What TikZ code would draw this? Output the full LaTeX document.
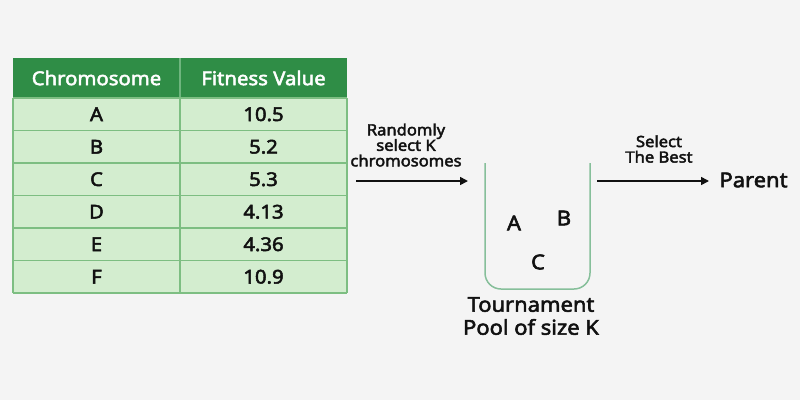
\documentclass[tikz,border=0pt]{standalone}
\usepackage{fontspec}
\setmainfont{Noto Sans}[FakeBold=2.6, FakeStretch=1.07]
\usetikzlibrary{arrows.meta}
\definecolor{bg}{HTML}{F4F4F4}
\definecolor{hdr}{HTML}{2F8D46}
\definecolor{rowfill}{HTML}{D3EDCF}
\definecolor{rowline}{HTML}{7DBE82}
\definecolor{hdrline}{HTML}{6FB57E}
\definecolor{pool}{HTML}{86BF9A}
\definecolor{ink}{HTML}{111111}
\tikzset{
  cell/.style={font=\fontsize{19}{21}\selectfont, text=ink},
  hcell/.style={font=\fontsize{19}{21}\selectfont, text=white},
  lbl/.style={font=\fontsize{15.5}{15.5}\selectfont, text=ink, align=center},
  big/.style={font=\fontsize{20.5}{23}\selectfont, text=ink, align=center},
  arr/.style={-{Triangle[length=8pt,width=8pt]}, line width=1.6pt, draw=ink},
}
\begin{document}
\begin{tikzpicture}[x=1pt,y=-1pt]
\useasboundingbox (0,0) rectangle (800,400);
\fill[bg] (0,0) rectangle (800,400);
% table
\fill[hdr] (13,58) rectangle (347,98);
\fill[rowfill] (13,98) rectangle (347,293);
\draw[hdrline, line width=1.4pt] (180,58) -- (180,98);
\foreach \y in {98,130.5,163,195.5,228,260.5,293} \draw[rowline, line width=1.4pt] (13,\y) -- (347,\y);
\draw[rowline, line width=1.4pt] (13,98) -- (13,293) (347,98) -- (347,293) (180,98) -- (180,293);
\node[hcell] (h1) at (96.5,78) {Chromosome};
\node[hcell] (h2) at (263.5,78) {Fitness Value};
\foreach \n/\v [count=\i from 0] in {A/10.5,B/5.2,C/5.3,D/4.13,E/4.36,F/10.9} {
  \node[cell] (c\i) at (96.5,114.25+32.5*\i) {\n};
  \node[cell] (v\i) at (263.5,114.25+32.5*\i) {\v};
}
% arrows
\coordinate (a1s) at (356,181);
\coordinate (a1e) at (468,181);
\draw[arr] (a1s) -- (a1e);
\node[lbl] (t1) at (406,145) {Randomly\\select K\\chromosomes};
\coordinate (a2s) at (597,181);
\coordinate (a2e) at (709,181);
\draw[arr] (a2s) -- (a2e);
\node[lbl] (t2) at (659,149) {Select\\The Best};
\node[big, anchor=west] (parent) at (716,180) {Parent};
% pool
\draw[pool, line width=1.5pt, rounded corners=16pt] (485,163) -- (485,289) -- (590,289) -- (590,163);
\node[big] (pa) at (514,223) {A};
\node[big] (pb) at (564,218) {B};
\node[big] (pc) at (538,262) {C};
\node[big] (pool) at (531,316) {Tournament\\Pool of size K};
\end{tikzpicture}
\end{document}
